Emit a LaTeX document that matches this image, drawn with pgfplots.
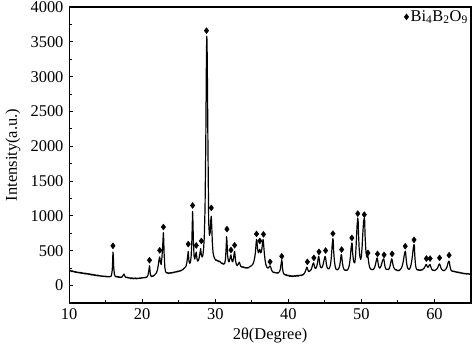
\documentclass[border=0pt]{standalone}
\usepackage{fontspec}
\setmainfont{Liberation Serif}
\usepackage{pgfplots}
\pgfplotsset{compat=1.18}
\begin{document}
\fontsize{16.5}{19}\selectfont
\begin{tikzpicture}
\begin{axis}[
  scale only axis, width=402bp, height=296bp,
  xmin=10, xmax=65, ymin=-250, ymax=4000,
  xtick={10,20,30,40,50,60}, minor xtick={15,25,35,45,55,65},
  ytick={0,500,1000,1500,2000,2500,3000,3500,4000},
  minor ytick={-250,250,750,1250,1750,2250,2750,3250,3750},
  xtick pos=bottom, ytick pos=left,
  tick align=inside,
  major tick length=4bp, minor tick length=3bp,
  axis line style={line width=1.2pt},
  every tick/.style={black, line width=0.9pt},
  /pgf/number format/assume math mode=true,
  scaled y ticks=false,
  yticklabel style={/pgf/number format/1000 sep={}, inner ysep=0pt},
  tick label style={font=\fontsize{16.5}{19}\selectfont},
  label style={font=\fontsize{16.5}{19}\selectfont},
  xlabel={2θ(Degree)}, ylabel={Intensity(a.u.)},
  xlabel style={yshift=3bp},
  ylabel style={yshift=-1bp},
  legend style={at={(1,1)}, anchor=north east, draw=none, fill=none, font=\fontsize{16.5}{19}\selectfont, inner sep=1pt},
  legend cell align=left,
]
\addplot[black, line width=1.2pt, line join=round, forget plot] coordinates {
(10.0,225)(10.1,210)(10.2,218)(10.3,200)(10.4,212)(10.5,198)(10.6,205)(10.7,192)(10.8,203)(10.9,188)
(11.0,197)(11.1,185)(11.2,194)(11.3,182)(11.4,190)(11.5,178)(11.6,188)(11.7,175)(11.8,184)(11.9,172)
(12.0,180)(12.1,168)(12.2,178)(12.3,165)(12.4,174)(12.5,162)(12.6,170)(12.7,158)(12.8,168)(12.9,155)
(13.0,164)(13.1,150)(13.2,160)(13.3,148)(13.4,156)(13.5,145)(13.6,152)(13.7,142)(13.8,150)(13.9,138)
(14.0,148)(14.1,136)(14.2,144)(14.3,132)(14.4,140)(14.5,130)(14.6,138)(14.7,128)(14.8,136)(14.9,126)
(15.0,134)(15.1,124)(15.2,132)(15.3,122)(15.4,130)(15.5,124)(15.6,132)(15.7,128)(15.8,145)(15.9,220)
(15.95,330)(16.0,480)(16.05,430)(16.1,260)(16.2,160)(16.3,135)(16.4,125)(16.5,132)(16.6,120)(16.7,128)
(16.8,115)(16.9,124)(17.0,114)(17.1,122)(17.2,118)(17.3,130)(17.4,145)(17.5,165)(17.6,140)(17.7,122)
(17.8,115)(17.9,120)(18.0,108)(18.1,116)(18.2,104)(18.3,112)(18.4,100)(18.5,110)(18.6,98)(18.7,108)
(18.8,96)(18.9,106)(19.0,98)(19.1,108)(19.2,96)(19.3,106)(19.4,98)(19.5,108)(19.6,100)(19.7,110)
(19.8,102)(19.9,112)(20.0,104)(20.1,116)(20.2,108)(20.3,118)(20.4,110)(20.5,122)(20.6,116)(20.7,130)
(20.8,150)(20.9,210)(21.0,285)(21.05,240)(21.1,170)(21.2,135)(21.3,128)(21.4,138)(21.5,132)(21.6,145)
(21.7,150)(21.8,165)(21.9,175)(22.0,195)(22.1,230)(22.2,290)(22.3,370)(22.4,410)(22.5,330)(22.6,300)
(22.7,400)(22.8,560)(22.9,760)(22.95,650)(23.0,460)(23.1,260)(23.2,200)(23.3,185)(23.4,178)(23.5,185)
(23.6,172)(23.7,182)(23.8,175)(23.9,186)(24.0,178)(24.1,190)(24.2,182)(24.3,194)(24.4,186)(24.5,198)
(24.6,190)(24.7,202)(24.8,195)(24.9,208)(25.0,200)(25.1,212)(25.2,206)(25.3,218)(25.4,215)(25.5,228)
(25.6,232)(25.7,245)(25.8,250)(25.9,265)(26.0,280)(26.1,320)(26.2,400)(26.3,490)(26.4,350)(26.5,320)
(26.6,330)(26.7,420)(26.8,650)(26.9,1065)(26.95,900)(27.0,650)(27.1,420)(27.2,380)(27.3,440)(27.4,480)
(27.5,380)(27.6,350)(27.7,360)(27.8,400)(27.9,460)(28.0,530)(28.1,440)(28.2,410)(28.3,430)(28.4,520)
(28.5,700)(28.6,1100)(28.7,2000)(28.8,3400)(28.85,3580)(28.9,3300)(29.0,2000)(29.1,900)(29.2,720)(29.3,760)
(29.4,950)(29.45,995)(29.5,900)(29.6,620)(29.7,470)(29.8,420)(29.9,390)(30.0,375)(30.1,360)(30.2,368)
(30.3,350)(30.4,356)(30.5,342)(30.6,350)(30.7,335)(30.8,325)(30.9,315)(31.0,322)(31.1,305)(31.2,310)
(31.3,320)(31.4,380)(31.5,560)(31.55,700)(31.6,640)(31.7,420)(31.8,350)(31.9,340)(32.0,380)(32.1,430)
(32.15,440)(32.2,400)(32.3,350)(32.4,340)(32.5,390)(32.6,470)(32.65,490)(32.7,440)(32.8,340)(32.9,300)
(33.0,285)(33.1,300)(33.2,320)(33.3,335)(33.4,300)(33.5,275)(33.6,268)(33.7,262)(33.8,270)(33.9,256)
(34.0,262)(34.1,250)(34.2,258)(34.3,248)(34.4,256)(34.5,252)(34.6,262)(34.7,268)(34.8,275)(34.9,280)
(35.0,290)(35.1,300)(35.2,320)(35.3,350)(35.4,400)(35.5,480)(35.6,620)(35.65,660)(35.7,640)(35.8,520)
(35.9,470)(36.0,500)(36.1,520)(36.2,470)(36.3,480)(36.4,540)(36.5,640)(36.55,660)(36.6,620)(36.7,480)
(36.8,380)(36.9,310)(37.0,280)(37.1,258)(37.2,250)(37.3,256)(37.4,270)(37.5,282)(37.6,260)(37.7,225)
(37.8,205)(37.9,192)(38.0,186)(38.1,192)(38.2,180)(38.3,186)(38.4,176)(38.5,184)(38.6,178)(38.7,190)
(38.8,200)(38.9,230)(39.0,300)(39.1,370)(39.15,340)(39.2,250)(39.3,185)(39.4,165)(39.5,158)(39.6,150)
(39.7,156)(39.8,142)(39.9,150)(40.0,138)(40.1,146)(40.2,132)(40.3,142)(40.4,130)(40.5,140)(40.6,128)
(40.7,138)(40.8,130)(40.9,142)(41.0,132)(41.1,144)(41.2,134)(41.3,146)(41.4,136)(41.5,148)(41.6,140)
(41.7,150)(41.8,142)(41.9,156)(42.0,150)(42.1,165)(42.2,175)(42.3,195)(42.4,225)(42.5,255)(42.55,263)
(42.6,250)(42.7,215)(42.8,200)(42.9,205)(43.0,215)(43.1,225)(43.2,250)(43.3,290)(43.4,320)(43.45,325)
(43.5,310)(43.6,265)(43.7,245)(43.8,250)(43.9,280)(44.0,330)(44.1,400)(44.15,420)(44.2,400)(44.3,310)
(44.4,265)(44.5,255)(44.6,260)(44.7,280)(44.8,320)(44.9,370)(45.0,410)(45.05,416)(45.1,400)(45.2,310)
(45.3,262)(45.4,245)(45.5,238)(45.6,245)(45.7,270)(45.8,320)(45.9,420)(46.0,580)(46.1,674)(46.15,640)
(46.2,500)(46.3,360)(46.4,280)(46.5,240)(46.6,230)(46.7,225)(46.8,232)(46.9,245)(47.0,270)(47.1,330)
(47.2,420)(47.25,444)(47.3,430)(47.4,330)(47.5,265)(47.6,235)(47.7,222)(47.8,218)(47.9,225)(48.0,215)
(48.1,225)(48.2,240)(48.3,270)(48.4,330)(48.5,420)(48.6,550)(48.7,612)(48.75,590)(48.8,470)(48.9,370)
(49.0,330)(49.1,325)(49.2,420)(49.3,620)(49.4,850)(49.5,970)(49.55,940)(49.6,760)(49.7,520)(49.8,410)
(49.9,373)(50.0,420)(50.1,560)(50.2,760)(50.3,920)(50.4,970)(50.45,930)(50.5,720)(50.6,520)(50.7,430)
(50.8,400)(50.85,420)(50.9,415)(51.0,330)(51.1,270)(51.2,245)(51.3,235)(51.4,228)(51.5,232)(51.6,226)
(51.7,240)(51.8,258)(51.9,290)(52.0,340)(52.1,385)(52.15,397)(52.2,380)(52.3,310)(52.4,262)(52.5,250)
(52.6,262)(52.7,285)(52.8,320)(52.9,360)(53.0,380)(53.05,383)(53.1,365)(53.2,290)(53.3,245)(53.4,232)
(53.5,228)(53.6,235)(53.7,228)(53.8,245)(53.9,270)(54.0,320)(54.1,370)(54.15,383)(54.2,370)(54.3,310)
(54.4,265)(54.5,245)(54.6,232)(54.7,222)(54.8,228)(54.9,215)(55.0,212)(55.1,220)(55.2,214)(55.3,228)
(55.4,240)(55.5,255)(55.6,285)(55.7,330)(55.8,390)(55.9,460)(56.0,492)(56.05,480)(56.1,410)(56.2,310)
(56.3,260)(56.4,238)(56.5,230)(56.6,240)(56.7,260)(56.8,300)(56.9,360)(57.0,440)(57.1,540)(57.2,588)
(57.25,570)(57.3,440)(57.4,300)(57.5,245)(57.6,230)(57.7,222)(57.8,228)(57.9,218)(58.0,224)(58.1,216)
(58.2,226)(58.3,222)(58.4,234)(58.5,240)(58.6,252)(58.7,270)(58.8,295)(58.9,301)(59.0,275)(59.1,262)
(59.2,272)(59.3,295)(59.4,301)(59.5,270)(59.6,240)(59.7,225)(59.8,218)(59.9,222)(60.0,212)(60.1,220)
(60.2,226)(60.3,235)(60.4,248)(60.5,270)(60.6,300)(60.7,310)(60.8,285)(60.9,250)(61.0,230)(61.1,222)
(61.2,215)(61.3,212)(61.4,220)(61.5,228)(61.6,242)(61.7,262)(61.8,300)(61.9,340)(62.0,349)(62.05,335)
(62.1,290)(62.2,240)(62.3,215)(62.4,205)(62.5,210)(62.6,198)(62.7,206)(62.8,194)(62.9,200)(63.0,190)
(63.1,196)(63.2,184)(63.3,192)(63.4,180)(63.5,188)(63.6,176)(63.7,184)(63.8,172)(63.9,180)(64.0,168)
(64.1,176)(64.2,166)(64.3,174)(64.4,164)(64.5,172)(64.6,162)(64.7,170)(64.8,160)(64.9,168)(65.0,165)
};
\addplot[only marks, mark=diamond*, mark size=3pt, black] coordinates {
(16.0,570)(21.0,363)(22.4,505)(22.9,840)(26.3,595)(26.9,1150)(27.4,575)(28.1,640)(28.8,3660)(29.45,1115)
(31.6,810)(32.15,510)(32.65,578)(35.65,741)(36.1,640)(36.6,735)(37.5,340)(39.1,420)(42.6,340)(43.5,397)
(44.2,483)(45.1,502)(46.1,745)(47.3,516)(48.7,683)(49.5,1032)(50.4,1018)(50.9,468)(52.2,454)(53.1,440)
(54.2,454)(56.0,564)(57.2,655)(58.9,387)(59.4,387)(60.7,397)(62.0,435)
};
\addlegendentry{Bi\textsubscript{4}B\textsubscript{2}O\textsubscript{9}}
\end{axis}
\path ([xshift=3bp,yshift=-50bp]current axis.south east) ([yshift=7bp]current axis.north east);
\end{tikzpicture}
\end{document}
